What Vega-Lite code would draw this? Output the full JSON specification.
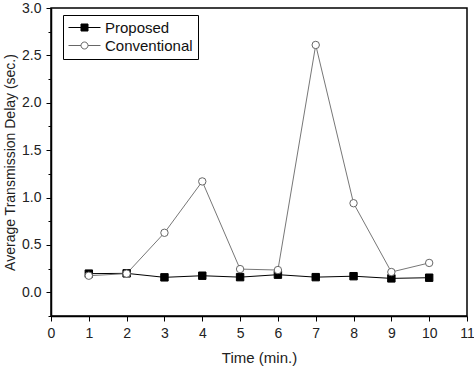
{
  "$schema": "https://vega.github.io/schema/vega-lite/v6.json",
  "width": 416,
  "height": 308,
  "autosize": {"type": "none"},
  "padding": {"left": 51, "top": 8, "right": 7, "bottom": 50},
  "background": "white",
  "config": {
    "view": {"stroke": "black", "strokeWidth": 1.5},
    "font": "Liberation Sans",
    "axis": {"labelFont": "Liberation Sans", "titleFont": "Liberation Sans", "labelColor": "#222", "titleColor": "#222", "domainColor": "black", "tickColor": "black", "grid": false, "titleFontWeight": "normal"}
  },
  "data": {"values": [
    {"time": 1, "series": "Proposed", "delay": 0.197},
    {"time": 2, "series": "Proposed", "delay": 0.2},
    {"time": 3, "series": "Proposed", "delay": 0.158},
    {"time": 4, "series": "Proposed", "delay": 0.175},
    {"time": 5, "series": "Proposed", "delay": 0.16},
    {"time": 6, "series": "Proposed", "delay": 0.186},
    {"time": 7, "series": "Proposed", "delay": 0.16},
    {"time": 8, "series": "Proposed", "delay": 0.17},
    {"time": 9, "series": "Proposed", "delay": 0.147},
    {"time": 10, "series": "Proposed", "delay": 0.154},
    {"time": 1, "series": "Conventional", "delay": 0.175},
    {"time": 2, "series": "Conventional", "delay": 0.197},
    {"time": 3, "series": "Conventional", "delay": 0.628},
    {"time": 4, "series": "Conventional", "delay": 1.17},
    {"time": 5, "series": "Conventional", "delay": 0.245},
    {"time": 6, "series": "Conventional", "delay": 0.235},
    {"time": 7, "series": "Conventional", "delay": 2.61},
    {"time": 8, "series": "Conventional", "delay": 0.94},
    {"time": 9, "series": "Conventional", "delay": 0.214},
    {"time": 10, "series": "Conventional", "delay": 0.31}
  ]},
  "layer": [
    {
      "mark": {"type": "line", "strokeWidth": 1},
      "encoding": {
        "x": {"field": "time", "type": "quantitative", "scale": {"domain": [0, 11], "nice": false},
              "axis": {"title": "Time (min.)", "values": [0,1,2,3,4,5,6,7,8,9,10,11], "tickCount": 30, "format": "d", "labelOverlap": false, "labelBound": false, "tickSize": 5, "labelFontSize": 14, "titleFontSize": 15, "labelPadding": 5, "titlePadding": 10, "domainWidth": 1.5, "labelFlush": false}},
        "y": {"field": "delay", "type": "quantitative", "scale": {"domain": [-0.25, 3.0], "nice": false, "zero": false},
              "axis": {"title": "Average Transmission Delay (sec.)", "values": [-0.25, 0, 0.25, 0.5, 0.75, 1, 1.25, 1.5, 1.75, 2, 2.25, 2.5, 2.75, 3], "tickCount": 30,
                       "labelExpr": "datum.value % 0.5 === 0 ? format(datum.value, '.1f') : ''",
                       "labelOverlap": false, "labelBound": false,
                       "tickSize": {"condition": {"test": "datum.value % 0.5 !== 0", "value": 3}, "value": 5},
                       "labelFontSize": 14, "titleFontSize": 14, "labelPadding": 5, "titlePadding": 4, "domainWidth": 1.5, "labelFlush": false}},
        "stroke": {"field": "series", "type": "nominal", "scale": {"domain": ["Proposed", "Conventional"], "range": ["black", "#777777"]}, "legend": null},
        "detail": {"field": "series"}
      }
    },
    {
      "mark": {"type": "point", "filled": false, "size": 55, "strokeWidth": 1, "opacity": 1},
      "encoding": {
        "x": {"field": "time", "type": "quantitative"},
        "y": {"field": "delay", "type": "quantitative"},
        "shape": {"field": "series", "type": "nominal", "scale": {"domain": ["Proposed", "Conventional"], "range": ["square", "circle"]}, "legend": null},
        "fill": {"field": "series", "type": "nominal", "scale": {"domain": ["Proposed", "Conventional"], "range": ["black", "white"]}, "legend": null},
        "stroke": {"field": "series", "type": "nominal", "scale": {"domain": ["Proposed", "Conventional"], "range": ["black", "#666666"]}, "legend": null}
      }
    },
    {
      "transform": [{"filter": "datum.time > 100"}],
      "mark": {"type": "point", "filled": false, "strokeWidth": 1, "opacity": 1},
      "encoding": {
        "shape": {"field": "series", "type": "nominal",
                  "scale": {"domain": ["Proposed", "Conventional"], "range": ["M-1,0H3.571M0.786,-0.5H1.786V0.5H0.786Z", "M-1,0H0.786M1.786,0H3.571M0.786,0A0.5,0.5 0 1,0 1.786,0A0.5,0.5 0 1,0 0.786,0Z"]},
                  "legend": {"title": null, "orient": "none", "legendX": 12, "legendY": 7, "strokeColor": "black", "padding": 5, "symbolSize": 196, "symbolStrokeWidth": 1, "labelFontSize": 15, "labelColor": "#111", "labelOffset": 22, "rowPadding": 2, "labelFont": "Liberation Sans"}},
        "fill": {"field": "series", "type": "nominal", "scale": {"domain": ["Proposed", "Conventional"], "range": ["black", "white"]}},
        "stroke": {"field": "series", "type": "nominal", "scale": {"domain": ["Proposed", "Conventional"], "range": ["black", "#666666"]}}
      }
    }
  ],
  "resolve": {"scale": {"shape": "independent", "fill": "independent", "stroke": "independent"}}
}
